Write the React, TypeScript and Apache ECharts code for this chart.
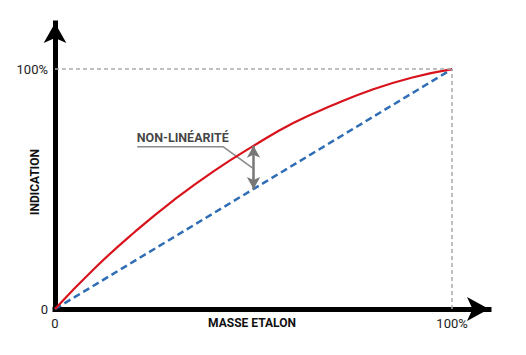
import React, { useEffect, useRef } from "react";
import * as echarts from "echarts";

const masse = [0, 0.1, 0.2, 0.3, 0.4, 0.5, 0.6, 0.7, 0.8, 0.9, 1];
const indication = [0, 0.17, 0.32, 0.455, 0.575, 0.68, 0.775, 0.85, 0.915, 0.965, 1];
const ideal = [
  [0, 0],
  [1, 1],
];
const tickValues = [0, 1];
const tickLabels = ["0", "100%"];
const annotationText = "NON-LINÉARITÉ";
const annotationX = 0.5;
const leader = [
  [0.207, 0.676],
  [0.424, 0.676],
  [0.497, 0.588],
];

const boldFont = "Roboto, 'DejaVu Sans Condensed', Arial, sans-serif";
const tickFont = "Roboto, Arial, sans-serif";

export default function App() {
  const ref = useRef<HTMLDivElement>(null);
  useEffect(() => {
    if (!ref.current) return;
    const chart = echarts.init(ref.current, null, { renderer: "svg" });
    const fmt = (v: number) => tickLabels[tickValues.indexOf(v)] ?? "";
    const redAt = indication[masse.indexOf(annotationX)];
    chart.setOption({
      animation: false,
      grid: { left: 55, right: 37, top: 23, bottom: 46, outerBoundsMode: "none", containLabel: false },
      xAxis: {
        type: "value",
        min: 0,
        max: 1.093,
        splitLine: { show: false },
        axisTick: { show: false },
        axisLine: {
          onZero: false,
          symbol: ["none", "arrow"],
          symbolSize: [18, 22],
          lineStyle: { color: "#000", width: 5, cap: "square" },
        },
        axisLabel: {
          customValues: tickValues,
          formatter: fmt,
          margin: 8,
          color: "#222",
          fontSize: 13,
          fontFamily: tickFont,
        },
        name: "MASSE ETALON",
        nameLocation: "middle",
        nameGap: 8,
        nameMoveOverlap: false,
        nameTextStyle: {
          color: "#111",
          fontSize: 12,
          fontWeight: "bold",
          fontFamily: boldFont,
          verticalAlign: "top",
          padding: [0, 40, 0, 0],
        },
      },
      yAxis: {
        type: "value",
        min: 0,
        max: 1.192,
        splitLine: { show: false },
        axisTick: { show: false },
        axisLine: {
          onZero: false,
          symbol: ["none", "arrow"],
          symbolSize: [17, 20],
          lineStyle: { color: "#000", width: 5, cap: "square" },
        },
        axisLabel: {
          customValues: tickValues,
          formatter: fmt,
          margin: 7,
          color: "#222",
          fontSize: 13,
          fontFamily: tickFont,
        },
        name: "INDICATION",
        nameLocation: "middle",
        nameGap: 14,
        nameMoveOverlap: false,
        nameTextStyle: {
          color: "#111",
          fontSize: 12,
          fontWeight: "bold",
          fontFamily: boldFont,
          padding: [0, 32, 0, 0],
        },
      },
      series: [
        {
          type: "line",
          data: ideal,
          symbol: "none",
          lineStyle: { color: "#2f6db5", width: 2.5, type: [7, 4] },
          z: 3,
          markLine: {
            silent: true,
            symbol: ["none", "none"],
            label: { show: false },
            lineStyle: { color: "#aaaaaa", width: 1.5, type: [4, 3] },
            data: [
              [{ coord: [0, 1] }, { coord: [1, 1] }],
              [{ coord: [1, 0] }, { coord: [1, 1] }],
            ],
          },
        },
        {
          type: "line",
          data: masse.map((x, i) => [x, indication[i]]),
          smooth: true,
          symbol: "none",
          lineStyle: { color: "#d8131c", width: 2.2 },
          z: 4,
          markLine: {
            silent: true,
            symbol: ["arrow", "arrow"],
            symbolSize: [10, 12],
            label: { show: false },
            lineStyle: { color: "#777", width: 2.5, type: "solid" },
            data: [[{ coord: [annotationX, redAt] }, { coord: [annotationX, annotationX] }]],
          },
        },
        {
          type: "line",
          data: leader,
          symbol: "none",
          lineStyle: { color: "#8a8a8a", width: 1.5 },
          z: 2,
        },
        {
          type: "scatter",
          data: [leader[0]],
          symbolSize: 1,
          itemStyle: { color: "rgba(0,0,0,0)" },
          label: {
            show: true,
            position: [0, -2],
            align: "left",
            verticalAlign: "bottom",
            formatter: annotationText,
            color: "#111",
            fontSize: 12.5,
            fontWeight: "bold",
            fontFamily: boldFont,
          },
        },
      ],
    });
    return () => chart.dispose();
  }, []);
  return (
    <div
      ref={ref}
      style={{ position: "absolute", left: 0, top: 0, width: 526, height: 355, background: "#fff" }}
    />
  );
}
